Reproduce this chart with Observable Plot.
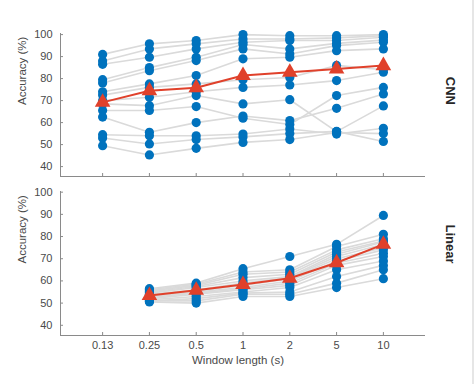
<!DOCTYPE html>
<html><head><meta charset="utf-8">
<script src="https://cdn.jsdelivr.net/npm/d3@7"></script>
<script src="https://cdn.jsdelivr.net/npm/@observablehq/plot@0.6"></script>
<style>
body{margin:0;background:#fff;}
#chart{position:relative;width:474px;height:384px;overflow:hidden;font-family:"Liberation Sans",Arial,sans-serif;background:#fff;}
#chart svg{display:block;}
#edge{position:absolute;right:0;top:0;width:2px;height:384px;background:#e6e6e6;}
</style></head><body><div id="chart"><div id="edge"></div></div>
<script>
const windows = ["0.13","0.25","0.5","1","2","5","10"];
const yTicks = [40,50,60,70,80,90,100];

// CNN: one row per subject, values at each window length
const cnnSubjects = [
  [91.0, 95.8, 97.3, 100.0, 99.5, 99.5, 100.0],
  [88.0, 93.5, 95.8, 98.0, 98.0, 98.5, 99.5],
  [86.5, 89.7, 93.5, 96.5, 97.3, 97.3, 98.8],
  [79.5, 85.0, 89.7, 95.5, 93.5, 96.0, 97.5],
  [78.0, 83.6, 88.2, 93.5, 91.2, 95.0, 96.5],
  [74.0, 77.6, 81.4, 89.0, 89.7, 92.7, 93.5],
  [72.5, 76.0, 77.6, 79.5, 80.5, 86.0, 84.0],
  [70.0, 71.5, 74.0, 76.0, 77.1, 79.1, 82.9],
  [68.5, 67.7, 72.3, 68.5, 70.4, 55.9, 67.6],
  [65.5, 65.5, 67.3, 62.0, 59.1, 72.3, 76.0],
  [62.5, 55.6, 60.0, 63.0, 60.9, 66.5, 73.0],
  [54.5, 54.0, 54.0, 54.8, 57.1, 54.8, 57.4],
  [53.0, 50.3, 52.3, 53.5, 55.0, 56.0, 51.4],
  [49.5, 45.3, 48.3, 51.0, 52.3, 55.5, 55.0]
];
const cnnMean = [69.2, 74.5, 75.8, 81.4, 82.9, 84.4, 85.9];

// Linear: no value at 0.13 s
const linearSubjects = [
  [null, 56.5, 59.0, 65.5, 71.0, 76.5, 89.5],
  [null, 56.0, 58.5, 64.0, 65.0, 75.5, 81.0],
  [null, 55.5, 58.0, 63.0, 64.0, 74.0, 79.0],
  [null, 55.0, 57.5, 61.5, 63.0, 73.0, 78.0],
  [null, 54.5, 57.0, 60.0, 62.0, 72.0, 77.5],
  [null, 54.0, 56.0, 59.0, 61.5, 71.0, 76.5],
  [null, 53.5, 55.5, 58.0, 61.0, 70.0, 75.0],
  [null, 53.0, 55.0, 57.0, 60.0, 69.0, 74.0],
  [null, 52.5, 54.5, 56.5, 59.0, 68.0, 72.5],
  [null, 52.0, 54.0, 56.0, 58.0, 67.0, 71.0],
  [null, 51.5, 53.0, 55.0, 57.0, 65.0, 69.0],
  [null, 51.0, 52.0, 54.5, 55.0, 62.0, 67.0],
  [null, 51.0, 51.0, 54.0, 54.0, 59.0, 65.0],
  [null, 50.5, 50.0, 53.0, 53.0, 57.0, 61.0]
];
const linearMean = [null, 53.4, 55.8, 58.4, 61.2, 68.2, 76.5];

const axisColor = "#8a8a8a";
const textColor = "#4a4a4a";
const red = "#e0412b";
const blue = "#0072bd";

function panel({subjects, mean, label, height, marginTop, marginBottom, yDomain, showX}) {
  const idx = windows.map((w, i) => i);
  const rows = [];
  subjects.forEach((vals, s) => vals.forEach((v, i) => { if (v != null) rows.push({s, i, v}); }));
  const meanRows = mean.map((v, i) => ({i, v})).filter(d => d.v != null);
  const marks = [
    Plot.ruleX([-0.9], {stroke: axisColor, strokeWidth: 1}),
    Plot.ruleY([yDomain[0]], {stroke: axisColor, strokeWidth: 1}),
    Plot.axisY({ticks: yTicks, tickSize: -3, tickPadding: 11, label: null, stroke: axisColor, color: textColor, fontSize: 11}),
    Plot.axisX({ticks: idx, tickSize: -3, tickPadding: 9, label: null, stroke: axisColor, color: textColor, fontSize: 11,
      tickFormat: showX ? (i => windows[i]) : (() => "")}),
    Plot.line(rows, {x: "i", y: "v", z: "s", stroke: "#dadada", strokeWidth: 1.6}),
    Plot.dot(rows, {x: "i", y: "v", r: 4.6, fill: blue, stroke: null}),
    Plot.line(meanRows, {x: "i", y: "v", stroke: red, strokeWidth: 2}),
    Plot.dot(meanRows, {x: "i", y: "v", symbol: "triangle", r: 5.8, fill: red, stroke: null}),
    Plot.text([label], {frameAnchor: "right", dx: 25, rotate: 90, fontWeight: "bold", fontSize: 13, fill: "#262626"}),
    Plot.text(["Accuracy (%)"], {frameAnchor: "left", dx: -38, rotate: -90, fontSize: 11.5, fill: textColor})
  ];
  if (showX) marks.push(Plot.text(["Window length (s)"], {frameAnchor: "bottom", dy: 28, dx: -5, fontSize: 11.5, fill: textColor}));
  return Plot.plot({
    width: 472, height, marginLeft: 60, marginRight: 47, marginTop, marginBottom,
    style: {fontFamily: '"Liberation Sans", Arial, sans-serif', fontSize: "11px", color: textColor, background: "transparent", overflow: "visible"},
    x: {type: "linear", domain: [-0.9, 6.9]},
    y: {domain: yDomain},
    marks
  });
}

const chart = document.getElementById("chart");
chart.appendChild(panel({subjects: cnnSubjects, mean: cnnMean, label: "CNN", height: 180, marginTop: 33, marginBottom: 4, yDomain: [35.5, 100.5], showX: false}));
chart.appendChild(panel({subjects: linearSubjects, mean: linearMean, label: "Linear", height: 204, marginTop: 11, marginBottom: 49, yDomain: [35.4, 100.3], showX: true}));
</script></body></html>
